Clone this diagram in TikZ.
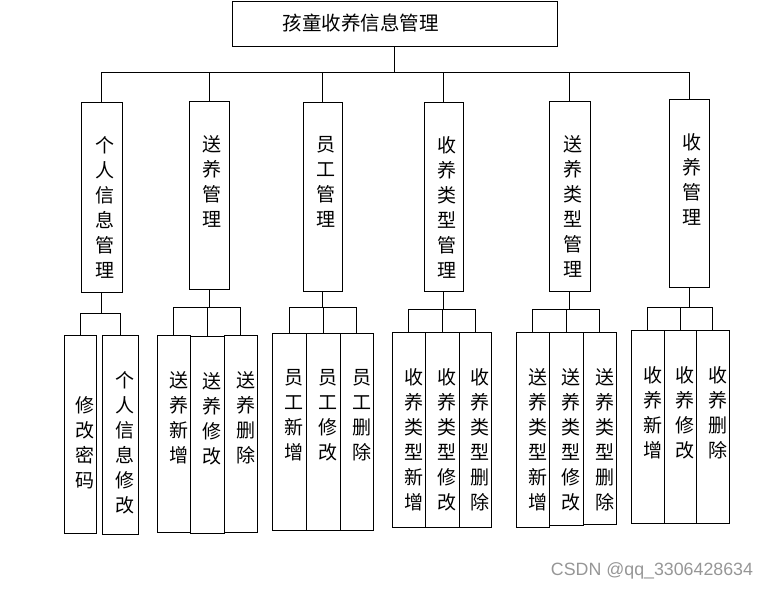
\documentclass[tikz,border=0pt]{standalone}
\usepackage{fontspec}
\setmainfont{Liberation Serif}
\newfontfamily\cjk{Noto Sans CJK SC}
\newfontfamily\wmfont{Liberation Sans}
\usepackage{xcolor}
\usetikzlibrary{positioning}
\definecolor{markgray}{RGB}{150, 150, 150}

\tikzset{
  box/.style={draw, line width=0.9pt, inner sep=0pt},
  vtext/.style={font=\cjk\fontsize{19}{25}\selectfont, align=center, inner sep=0pt, anchor=north},
  link/.style={line width=0.9pt},
}

\begin{document}
\begin{tikzpicture}[x=1pt, y=-1pt]
  \useasboundingbox (0,0) rectangle (772,589);

  % Root box
  \node[box, minimum width=325pt, minimum height=45pt] (root) at (394.5,23.5) {};
  \node[font=\cjk\fontsize{19.5}{24}\selectfont, inner sep=0pt] (title) at ([xshift=-34pt]root.center) {孩童收养信息管理};

  % Second level: name/left/right/top/bottom/text
  \foreach \i/\xa/\xb/\ya/\yb/\txt in {
      1/81/122/102/292/{个\\人\\信\\息\\管\\理},
      2/189/229/101/289/{送\\养\\管\\理},
      3/303/342/102/291/{员\\工\\管\\理},
      4/424/463/102/291/{收\\养\\类\\型\\管\\理},
      5/549/590/101/291/{送\\养\\类\\型\\管\\理},
      6/669/709/99/287/{收\\养\\管\\理}} {
    \node[box, minimum width={(\xb-\xa)*1pt}, minimum height={(\yb-\ya)*1pt}]
      (m\i) at ({(\xa+\xb)/2},{(\ya+\yb)/2}) {};
    \node[vtext] (mt\i) at ([xshift=3pt, yshift=-35pt]m\i.north) {\txt};
  }

  % Third level: name/left/right/top/bottom/offset/text
  \foreach \i/\xa/\xb/\ya/\yb/\dy/\txt in {
      1/64/96/335/533/62/{修\\改\\密\\码},
      2/102/138/335/534/37/{个\\人\\信\\息\\修\\改},
      3/157/190/335/532/37/{送\\养\\新\\增},
      4/190/224/336/533/37/{送\\养\\修\\改},
      5/224/257/335/532/37/{送\\养\\删\\除},
      6/272/306/333/530/37/{员\\工\\新\\增},
      7/306/340/333/530/37/{员\\工\\修\\改},
      8/340/373/333/530/37/{员\\工\\删\\除},
      9/392/425/332/527/37/{收\\养\\类\\型\\新\\增},
      10/425/459/332/527/37/{收\\养\\类\\型\\修\\改},
      11/459/491/332/527/37/{收\\养\\类\\型\\删\\除},
      12/516/549/332/527/37/{送\\养\\类\\型\\新\\增},
      13/549/583/332/525/37/{送\\养\\类\\型\\修\\改},
      14/583/616/332/524/37/{送\\养\\类\\型\\删\\除},
      15/631/664/330/523/37/{收\\养\\新\\增},
      16/664/696/330/523/37/{收\\养\\修\\改},
      17/696/729/330/523/37/{收\\养\\删\\除}} {
    \node[box, minimum width={(\xb-\xa)*1pt}, minimum height={(\yb-\ya)*1pt}]
      (f\i) at ({(\xa+\xb)/2},{(\ya+\yb)/2}) {};
    \node[vtext] (ft\i) at ([xshift=5pt, yshift=-\dy pt]f\i.north) {\txt};
  }

  % Root to modules
  \draw[link] (root.south) -- ++(0,26) coordinate (bus);
  \foreach \i in {1,...,6}
    \draw[link] (bus) -| (m\i.north);

  % Modules to functions: parent/child/drop
  \foreach \p/\c/\d in {1/1/21, 1/2/21, 2/3/18, 2/4/18, 2/5/18,
      3/6/16, 3/7/16, 3/8/16, 4/9/18, 4/10/18, 4/11/18,
      5/12/18, 5/13/18, 5/14/18, 6/15/20, 6/16/20, 6/17/20}
    \draw[link] (m\p.south) -- ++(0,\d) -| (f\c.north);

  % Watermark
  \node[font=\wmfont\fontsize{17.8}{20}\selectfont, text=markgray, inner sep=0pt] (mark) at (652,571) {CSDN @qq\_3306428634};
\end{tikzpicture}
\end{document}
